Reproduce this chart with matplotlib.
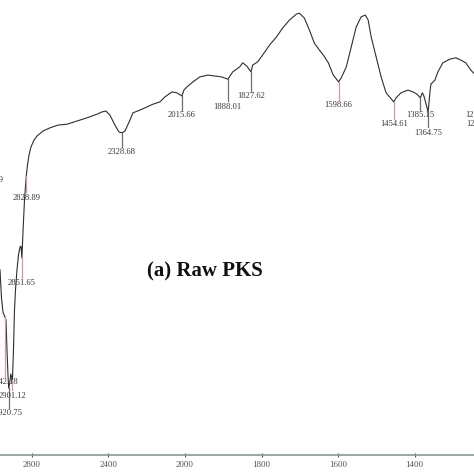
import numpy as np
import matplotlib
matplotlib.use("Agg")
from matplotlib import pyplot as plt
from matplotlib.ticker import FixedLocator

# FTIR spectrum of raw PKS (wavenumber cm-1, %T)
wavenumber = [
    2966.1, 2958.2, 2950.4, 2942.2, 2934.7, 2929.5, 2924.3, 2920.7, 2915.9,
    2909.7, 2901.1, 2895.6, 2890.3, 2885.1, 2877.3, 2869.5, 2861.6, 2856.4,
    2851.6, 2846.0, 2838.1, 2828.9, 2822.5, 2814.6, 2804.2, 2788.5, 2772.9,
    2741.5, 2705.0, 2663.2, 2616.2, 2564.0, 2511.8, 2459.5, 2433.4, 2412.5,
    2391.7, 2365.5, 2344.7, 2328.7, 2313.3, 2287.2, 2271.5, 2235.0, 2198.4,
    2167.1, 2130.6, 2104.4, 2067.9, 2041.8, 2015.7, 2005.2, 1994.8, 1979.2,
    1961.0, 1940.2, 1922.0, 1903.8, 1888.0, 1875.2, 1856.9, 1849.1, 1838.7,
    1827.6, 1823.1, 1810.1, 1797.1, 1778.9, 1760.7, 1745.1, 1726.9, 1708.7,
    1700.9, 1687.9, 1674.9, 1661.9, 1648.9, 1638.5, 1625.5, 1612.5, 1598.7,
    1591.6, 1578.6, 1565.6, 1552.6, 1539.6, 1529.2, 1521.4, 1513.6, 1500.6,
    1487.6, 1474.6, 1454.6, 1448.6, 1435.6, 1417.4, 1404.4, 1394.0, 1385.2,
    1380.0, 1375.8, 1364.8, 1360.0, 1357.6, 1347.1, 1339.3, 1326.3, 1308.1,
    1292.5, 1279.5, 1266.5, 1253.5, 1243.1,
]
transmittance = [
    40.7, 34.5, 31.4, 30.5, 29.7, 23.1, 17.6, 14.7, 15.6,
    17.8, 16.5, 23.1, 31.9, 36.3, 40.7, 44.0, 45.7, 45.9,
    43.3, 49.0, 56.0, 61.3, 63.7, 65.9, 67.7, 69.2, 70.1,
    71.2, 71.9, 72.5, 72.7, 73.4, 74.1, 74.9, 75.4, 75.6,
    74.7, 72.5, 71.0, 70.8, 71.2, 73.6, 75.2, 75.8, 76.5,
    77.1, 77.6, 78.7, 79.8, 79.6, 78.9, 80.2, 80.9, 82.0,
    83.1, 83.5, 83.3, 83.1, 82.6, 84.2, 85.3, 86.2, 85.5,
    84.2, 85.7, 86.4, 87.9, 90.1, 91.9, 93.8, 95.6, 96.9,
    97.1, 96.0, 93.4, 90.5, 89.0, 87.9, 86.2, 83.5, 82.0,
    82.9, 85.3, 89.7, 94.1, 96.3, 96.7, 95.6, 91.9, 87.5,
    83.1, 79.6, 77.6, 78.5, 79.6, 80.2, 79.8, 79.3, 78.5,
    79.6, 78.9, 75.4, 79.8, 81.5, 82.4, 84.2, 86.2, 87.0,
    87.3, 86.8, 86.2, 84.6, 83.7,
]

# peak labels
peak_pos = [3021.09, 2942.18, 2920.75, 2901.12, 2851.65, 2828.89, 2328.68,
            2015.66, 1888.01, 1827.62, 1598.66, 1454.61, 1385.15, 1364.75,
            1232.39, 1229.81]
peak_text = ["3021.09", "2942.18", "2920.75", "2901.12", "2851.65", "2828.89",
             "2328.68", "2015.66", "1888.01", "1827.62", "1598.66", "1454.61",
             "1385.15", "1364.75", "1232.39", "1229.81"]
label_y = [60.4, 16.0, 9.2, 13.0, 37.8, 56.5, 66.6, 74.7, 76.5, 78.9,
           76.9, 72.7, 74.7, 70.8, 74.7, 72.7]
tick_pos = [2800, 2400, 2000, 1800, 1600, 1400]

PINK = "#cf9aa6"
GREY = "#6f6f6f"
marker_color = [GREY, PINK, GREY, PINK, PINK, PINK, GREY, GREY, GREY, GREY,
                PINK, PINK, GREY, GREY, GREY, GREY]


def forward(x):
    x = np.asarray(x, dtype=float)
    return np.where(x > 2000, 2000 + (x - 2000) / 2, x)


def inverse(y):
    y = np.asarray(y, dtype=float)
    return np.where(y > 2000, 2000 + (y - 2000) * 2, y)


fig = plt.figure(figsize=(4.74, 4.74), dpi=100)
ax = fig.add_axes((0, 19 / 474, 1, 455 / 474))
ax.set_xscale("function", functions=(forward, inverse))
ax.set_xlim(2966, 1245)
ax.set_ylim(0, 100)

ax.plot(wavenumber, transmittance, color="#2e2e2e", lw=0.8)

wn_sorted = np.array(wavenumber)[::-1]
tr_sorted = np.array(transmittance)[::-1]
for pos, txt, ly, col in zip(peak_pos, peak_text, label_y, marker_color):
    top = np.interp(pos, wn_sorted, tr_sorted)
    ax.plot([pos, pos], [top, ly + 1.2], color=col, lw=0.9, clip_on=False)
    ax.text(pos, ly, txt, ha="center", va="center", fontsize=6.2,
            family="Liberation Serif", color="#3a3a3a")

fig.text(205 / 474, 1 - 271 / 474, "(a) Raw PKS", ha="center", va="center",
         fontsize=15, fontweight="bold", family="Liberation Serif",
         color="#111111")

for side in ("top", "left", "right"):
    ax.spines[side].set_visible(False)
ax.spines["bottom"].set_color("#8a9898")
ax.spines["bottom"].set_linewidth(1.2)
ax.xaxis.set_major_locator(FixedLocator(tick_pos))
ax.xaxis.set_minor_locator(FixedLocator([]))
ax.set_xticklabels([str(t) for t in tick_pos])
ax.tick_params(axis="x", direction="inout", length=3, width=0.8,
               colors="#555555", labelsize=6.5, pad=3)
for lbl in ax.get_xticklabels():
    lbl.set_family("Liberation Serif")
ax.set_yticks([])

fig.savefig("out.png", dpi=100)
